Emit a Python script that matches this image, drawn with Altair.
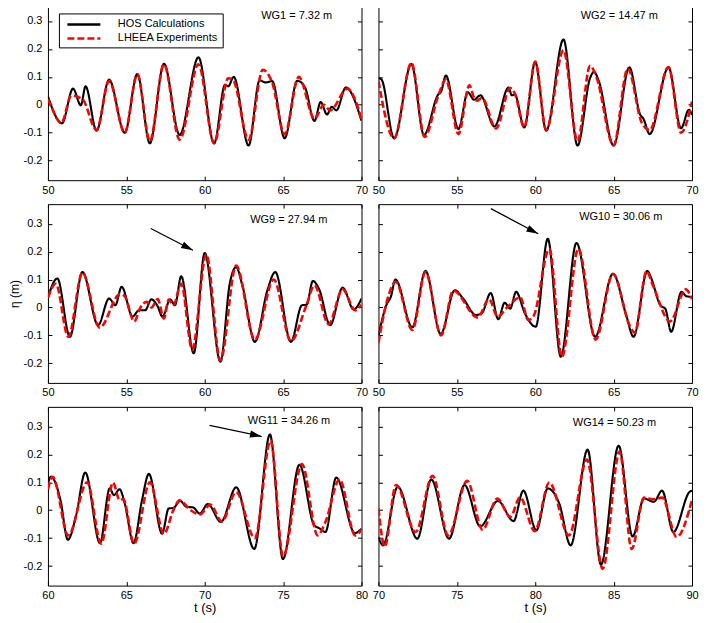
import altair as alt
import pandas as pd

FONT = "Liberation Sans"
HOS = "HOS Calculations"
EXP = "LHEEA Experiments"

# ---------------- WG1 ----------------
wg1_hos_t = [50.0, 50.9, 51.6, 52.1, 52.4, 53.1, 53.9, 54.9, 55.7, 56.5, 57.4, 58.4, 59.6, 60.6,
             61.3, 61.5, 61.85, 62.8, 63.5, 63.9, 64.3, 65.1, 65.9, 66.4, 67.0, 67.4, 67.8, 68.1,
             68.4, 69.0, 70.0]
wg1_hos_y = [0.03, -0.066, 0.058, -0.002, 0.066, -0.093, 0.09, -0.10, 0.11, -0.138, 0.147, -0.108,
             0.17, -0.138, 0.072, 0.066, 0.1, -0.146, 0.087, 0.08, 0.085, -0.12, 0.086, 0.062,
             -0.058, 0.01, -0.035, -0.007, -0.02, 0.062, -0.057]
wg1_exp_t = [50.0, 50.2, 50.85, 51.5, 52.2, 53.1, 53.9, 54.9, 55.7, 56.5, 57.4, 58.4, 59.6, 60.6,
             61.5, 61.8, 62.8, 63.7, 64.3, 65.1, 66.0, 67.0, 67.6, 68.0, 69.1, 70.0]
wg1_exp_y = [0.02, -0.005, -0.065, 0.033, 0.02, -0.09, 0.085, -0.10, 0.11, -0.13, 0.145, -0.125,
             0.145, -0.138, 0.095, 0.09, -0.125, 0.125, 0.08, -0.105, 0.1, -0.05, 0.0, -0.02,
             0.058, -0.05]

# ---------------- WG2 ----------------
wg2_hos_t = [50.0, 50.2, 51.0, 52.1, 52.9, 53.8, 54.0, 54.3, 55.1, 55.7, 56.1, 56.5, 57.4, 58.3,
             58.5, 58.7, 59.3, 60.0, 60.7, 61.8, 62.7, 63.5, 63.75, 64.05, 65.0, 66.0, 66.7,
             66.9, 67.3, 68.5, 69.3, 69.8, 70.0]
wg2_hos_y = [0.096, 0.09, -0.12, 0.146, -0.108, 0.036, 0.048, 0.105, -0.087, 0.045, 0.018, 0.034,
             -0.078, 0.062, 0.034, 0.036, -0.081, 0.153, -0.093, 0.234, -0.146, 0.096, 0.118,
             0.086, -0.146, 0.134, -0.036, -0.05, -0.105, 0.134, -0.084, -0.018, -0.036]
wg2_exp_t = [50.0, 51.0, 52.1, 52.95, 53.8, 54.3, 55.1, 55.8, 56.1, 56.3, 56.6, 57.5, 58.4, 58.7,
             59.3, 60.0, 60.7, 61.8, 62.7, 63.5, 63.9, 65.0, 65.9, 66.8, 67.3, 68.5, 69.3, 70.0]
wg2_exp_y = [0.085, -0.12, 0.15, -0.115, 0.03, 0.09, -0.105, 0.07, 0.025, 0.015, 0.025, -0.085,
             0.06, 0.04, -0.08, 0.155, -0.09, 0.195, -0.13, 0.14, 0.1, -0.145, 0.13, -0.065,
             -0.09, 0.135, -0.1, 0.012]

# ---------------- WG9 ----------------
wg9_hos_t = [50.0, 50.6, 51.4, 52.2, 53.2, 53.9, 54.3, 54.7, 55.4, 55.8, 56.2, 56.6, 57.0, 57.3,
             57.8, 58.1, 58.5, 59.3, 60.0, 61.0, 61.6, 62.0, 62.4, 63.2, 64.0, 64.5, 65.5, 66.2,
             66.5, 66.9, 67.3, 68.0, 68.8, 69.5, 70.0]
wg9_hos_y = [0.036, 0.104, -0.105, 0.127, -0.063, 0.032, 0.008, 0.074, -0.033, -0.01, -0.01,
             0.029, 0.004, -0.033, 0.029, 0.008, 0.112, -0.164, 0.195, -0.194, 0.086, 0.145, 0.08,
             -0.123, 0.062, 0.127, -0.123, 0.008, 0.01, 0.095, 0.065, -0.063, 0.071, -0.007, 0.032]
wg9_exp_t = [50.0, 50.5, 51.3, 52.2, 53.3, 54.6, 54.9, 55.5, 55.9, 56.3, 56.6, 57.0, 57.4, 57.7,
             58.0, 58.5, 59.2, 60.1, 61.0, 62.0, 63.2, 64.4, 65.5, 66.5, 67.0, 67.9, 68.8, 69.6,
             70.0]
wg9_exp_y = [0.035, 0.085, -0.105, 0.125, -0.072, 0.048, 0.04, -0.05, 0.0, 0.02, 0.0, 0.03, -0.04,
             0.028, 0.008, 0.085, -0.15, 0.19, -0.19, 0.15, -0.115, 0.1, -0.12, 0.01, 0.08, -0.06,
             0.065, -0.01, 0.01]

# ---------------- WG10 ----------------
wg10_hos_t = [50.0, 50.5, 50.8, 51.08, 52.16, 53.0, 53.97, 54.87, 55.4, 56.22, 56.6, 57.16, 57.64,
              58.05, 58.4, 58.78, 59.34, 60.03, 60.8, 61.63, 62.63, 63.82, 64.96, 65.8, 66.27,
              67.15, 67.36, 67.98, 68.3, 68.67, 69.33, 69.65, 70.0]
wg10_hos_y = [-0.1, 0.008, 0.04, 0.1, -0.071, 0.131, -0.095, 0.062, 0.032, -0.027, -0.02, 0.052,
              -0.042, 0.017, -0.004, 0.056, -0.021, -0.069, 0.246, -0.176, 0.231, -0.105, 0.121,
              -0.027, -0.105, 0.131, 0.11, 0.008, -0.005, -0.087, 0.056, 0.04, 0.038]
wg10_exp_t = [50.0, 50.5, 51.1, 52.16, 53.0, 54.0, 54.77, 56.33, 57.05, 57.6, 58.2, 59.05, 59.55,
              59.9, 60.9, 61.7, 62.75, 63.85, 64.96, 66.05, 66.35, 67.1, 67.5, 68.6, 69.6, 70.0]
wg10_exp_y = [-0.126, 0.014, 0.092, -0.08, 0.127, -0.1, 0.06, -0.036, 0.03, -0.033, 0.0, 0.036,
              -0.045, -0.03, 0.21, -0.176, 0.21, -0.115, 0.12, -0.068, -0.09, 0.13, 0.08, -0.05,
              0.065, 0.03]

# ---------------- WG11 ----------------
wg11_hos_t = [60.0, 60.19, 60.8, 61.27, 61.8, 62.38, 63.32, 63.94, 64.21, 64.57, 64.9, 65.46,
              66.0, 66.44, 67.28, 67.7, 68.0, 68.43, 68.84, 69.26, 69.68, 70.2, 71.03, 72.01,
              73.16, 74.16, 74.99, 76.04, 76.98, 77.29, 77.7, 78.39, 79.58, 80.0]
wg11_hos_y = [0.096, 0.12, 0.036, -0.106, -0.018, 0.135, -0.118, 0.078, 0.054, 0.075, 0.024,
              -0.118, 0.036, 0.13, -0.084, 0.006, 0.008, 0.033, 0.012, 0.01, -0.012, 0.022,
              -0.042, 0.082, -0.139, 0.271, -0.175, 0.163, -0.054, -0.064, -0.078, 0.117,
              -0.082, -0.066]
wg11_exp_t = [60.0, 60.3, 61.3, 62.5, 63.4, 64.15, 64.57, 64.8, 65.5, 66.5, 67.4, 68.0, 68.4,
              69.1, 69.7, 70.35, 71.1, 72.0, 73.2, 74.2, 75.0, 76.2, 77.2, 77.7, 78.6, 79.6, 80.0]
wg11_exp_y = [0.075, 0.12, -0.09, 0.1, -0.12, 0.099, 0.036, 0.04, -0.12, 0.1, -0.085, 0.0, 0.035,
              0.0, -0.015, 0.02, -0.04, 0.065, -0.1, 0.25, -0.165, 0.165, -0.09, -0.042, 0.11,
              -0.09, -0.07]

# ---------------- WG14 ----------------
wg14_hos_t = [70.0, 70.29, 71.23, 72.48, 73.37, 74.5, 75.49, 76.49, 77.62, 78.62, 79.24, 80.07,
              80.8, 81.53, 82.26, 83.34, 84.19, 85.32, 86.21, 86.94, 87.56, 88.09, 88.81, 89.85,
              90.0]
wg14_hos_y = [-0.096, -0.126, 0.084, -0.102, 0.11, -0.102, 0.09, -0.058, 0.033, -0.039, 0.07,
              -0.072, 0.078, 0.024, -0.126, 0.217, -0.195, 0.231, -0.094, 0.042, 0.03, 0.07,
              -0.078, 0.066, 0.07]
wg14_exp_t = [70.0, 70.4, 71.12, 72.37, 73.45, 74.45, 75.66, 76.64, 77.58, 78.41, 79.03, 79.97,
              80.9, 82.15, 83.3, 84.3, 85.38, 86.15, 86.94, 87.5, 88.1, 89.02, 90.0]
wg14_exp_y = [0.006, -0.13, 0.09, -0.078, 0.123, -0.09, 0.105, -0.07, 0.042, -0.024, 0.046,
              -0.075, 0.099, -0.09, 0.181, -0.21, 0.21, -0.139, 0.045, 0.039, 0.045, -0.096, 0.036]

series = [
    (wg1_hos_t, wg1_hos_y, wg1_exp_t, wg1_exp_y),
    (wg2_hos_t, wg2_hos_y, wg2_exp_t, wg2_exp_y),
    (wg9_hos_t, wg9_hos_y, wg9_exp_t, wg9_exp_y),
    (wg10_hos_t, wg10_hos_y, wg10_exp_t, wg10_exp_y),
    (wg11_hos_t, wg11_hos_y, wg11_exp_t, wg11_exp_y),
    (wg14_hos_t, wg14_hos_y, wg14_exp_t, wg14_exp_y),
]

gauge_labels = ["WG1 = 7.32 m", "WG2 = 14.47 m", "WG9 = 27.94 m",
                "WG10 = 30.06 m", "WG11 = 34.26 m", "WG14 = 50.23 m"]
label_t = [63.6, 62.9, 62.9, 62.8, 72.75, 82.4]
label_eta = [0.318, 0.318, 0.314, 0.324, 0.319, 0.312]
x_domains = [[50, 70], [50, 70], [50, 70], [50, 70], [60, 80], [70, 90]]
x_ticks = [[50, 55, 60, 65, 70]] * 4 + [[60, 65, 70, 75, 80], [70, 75, 80, 85, 90]]
y_ticks = [-0.2, -0.1, 0, 0.1, 0.2, 0.3]
Y_DOM = [-0.27, 0.37]

# arrows (panel index -> start / end in data units)
arrow_panel = [2, 3, 4]
arrow_t0 = [56.56, 57.17, 70.31]
arrow_eta0 = [0.283, 0.354, 0.304]
arrow_t1 = [59.25, 60.19, 73.64]
arrow_eta1 = [0.205, 0.264, 0.264]
arrow_angle = [27, 27, 12]

W, H = 314, 179
HEAD = "M 0 0 L -1 -0.3 L -1 0.3 Z"
LEG_SYMBOL = "M -3 0 L 3 0"


def legend():
    return alt.Legend(title=None, orient="none", legendX=11, legendY=12,
                      strokeColor="black", fillColor="white", padding=4,
                      labelFontSize=11, labelFont=FONT, labelColor="black",
                      symbolType=LEG_SYMBOL, symbolSize=121, symbolStrokeWidth=2.5,
                      symbolOffset=14, labelOffset=27, rowPadding=2)


color_enc = alt.Color("series:N",
                      scale=alt.Scale(domain=[HOS, EXP], range=["black", "#ff0000"]),
                      legend=legend())
dash_enc = alt.StrokeDash("series:N",
                          scale=alt.Scale(domain=[HOS, EXP], range=[[1, 0], [7, 3]]),
                          legend=legend())

y_label_expr = ("datum.value < 0 ? '-' + format(-datum.value, '.1f') : "
                "(datum.value == 0 ? '0' : format(datum.value, '.1f'))")


def make_panel(i):
    hos_t, hos_y, exp_t, exp_y = series[i]
    row, col = i // 2, i % 2
    df_h = pd.DataFrame({"t": hos_t, "eta": hos_y, "series": HOS})
    df_e = pd.DataFrame({"t": exp_t, "eta": exp_y, "series": EXP})

    xaxis = alt.Axis(values=x_ticks[i], grid=True, gridDash=[4, H - 8], gridColor="black",
                     gridWidth=1, gridOpacity=1, ticks=False, domain=False,
                     labelFlush=False, labelPadding=4, labelFontSize=11,
                     title="t (s)" if row == 2 else None,
                     titleFontSize=13, titleFontWeight="normal", titlePadding=1)
    yaxis = alt.Axis(values=y_ticks, grid=True, gridDash=[4, W - 8], gridColor="black",
                     gridWidth=1, gridOpacity=1, ticks=False, domain=False,
                     labels=(col == 0), labelExpr=y_label_expr, labelPadding=6,
                     labelFontSize=11, labelFlush=False,
                     title="η (m)" if i == 2 else None,
                     titleFontSize=12, titleFontWeight="normal", titlePadding=2)
    x_enc = alt.X("t:Q", scale=alt.Scale(domain=x_domains[i], nice=False, zero=False), axis=xaxis)
    y_enc = alt.Y("eta:Q", scale=alt.Scale(domain=Y_DOM, nice=False, zero=False), axis=yaxis)

    line_h = alt.Chart(df_h).mark_line(interpolate="monotone", strokeWidth=2.1, clip=True).encode(
        x=x_enc, y=y_enc, color=color_enc, strokeDash=dash_enc)
    line_e = alt.Chart(df_e).mark_line(interpolate="monotone", strokeWidth=2.6, clip=True).encode(
        x=x_enc, y=y_enc, color=color_enc, strokeDash=dash_enc)
    txt = alt.Chart(pd.DataFrame({"t": [label_t[i]], "eta": [label_eta[i]],
                                  "txt": [gauge_labels[i]]})).mark_text(
        align="left", baseline="middle", fontSize=11, font=FONT, color="black").encode(
        x=x_enc, y=y_enc, text="txt:N")
    layers = [line_h, line_e, txt]

    if i in arrow_panel:
        k = arrow_panel.index(i)
        adf = pd.DataFrame({"t": [arrow_t0[k]], "eta": [arrow_eta0[k]],
                            "t2": [arrow_t1[k]], "eta2": [arrow_eta1[k]]})
        rule = alt.Chart(adf).mark_rule(color="black", strokeWidth=1.2).encode(
            x=x_enc, y=y_enc, x2="t2:Q", y2="eta2:Q")
        hdf = pd.DataFrame({"t": [arrow_t1[k]], "eta": [arrow_eta1[k]]})
        head = alt.Chart(hdf).mark_point(shape=HEAD, filled=True, color="black", opacity=1,
                                         size=560, angle=arrow_angle[k], strokeWidth=0).encode(
            x=x_enc, y=y_enc)
        layers += [rule, head]

    return alt.layer(*layers).properties(width=W, height=H)


panels = [make_panel(i) for i in range(6)]

chart = alt.concat(*panels, columns=2, spacing={"row": 24, "column": 17}, bounds="flush").properties(
    padding={"left": -1, "top": -8, "right": 0, "bottom": 0}
).configure(font=FONT).configure_view(stroke="black", strokeWidth=1).configure_axis(
    labelColor="black", titleColor="black", labelFont=FONT, titleFont=FONT)

chart.save("out.html", embed_options={"renderer": "svg", "actions": False})
